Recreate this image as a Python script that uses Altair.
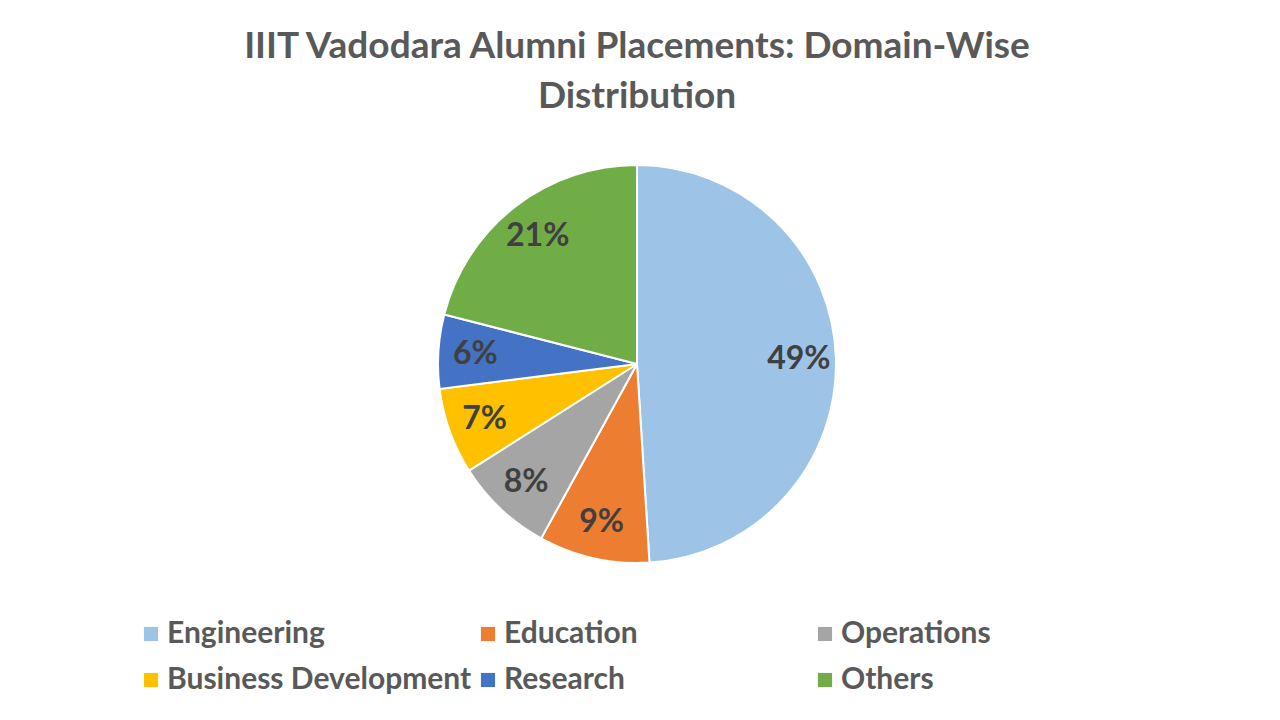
import altair as alt
import pandas as pd

domains = ["Engineering", "Education", "Operations", "Business Development", "Research", "Others"]
shares = [49, 9, 8, 7, 6, 21]
labels = ["49%", "9%", "8%", "7%", "6%", "21%"]
colors = ["#9DC3E6", "#ED7D31", "#A5A5A5", "#FFC000", "#4472C4", "#70AD47"]

df = pd.DataFrame({"domain": domains, "share": shares, "label": labels, "order": list(range(len(domains)))})

base = alt.Chart(df).encode(
    theta=alt.Theta("share:Q", stack=True),
    order=alt.Order("order:Q"),
)

pie = base.mark_arc(outerRadius=199, stroke="white", strokeWidth=2).encode(
    color=alt.Color(
        "domain:N",
        scale=alt.Scale(domain=domains, range=colors),
        legend=alt.Legend(
            title=None, orient="none", legendX=128, legendY=461,
            direction="horizontal",
            columns=3, gridAlign="all", symbolType="square", symbolSize=200,
            symbolStrokeWidth=0, labelFont="Lato", labelFontSize=30,
            labelFontWeight="bold", labelColor="#595959", labelLimit=500,
            rowPadding=16, columnPadding=1, labelOffset=1,
        ),
    )
)

text = base.mark_text(radius=162, font="Lato", fontWeight="bold", fontSize=32, color="#404040").encode(
    text="label:N"
)

chart = (pie + text).properties(
    width=1258, height=412,
    padding={"top": 150, "left": 0, "right": 6, "bottom": 142},
    autosize=alt.AutoSizeParams(type="none"),
    title=alt.Title(
        ["IIIT Vadodara Alumni Placements: Domain-Wise", "Distribution"],
        font="Lato", fontSize=37, fontWeight="bold", color="#595959",
        anchor="middle", offset=42, lineHeight=50,
    ),
).configure_view(stroke=None)

chart.save("out.html", embed_options={"renderer": "svg", "actions": False})
